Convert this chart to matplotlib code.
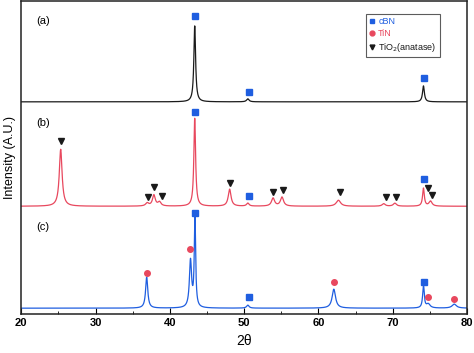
import numpy as np
import matplotlib
matplotlib.use("Agg")
import matplotlib.pyplot as plt
from matplotlib.lines import Line2D

plt.rcParams['font.family'] = ['Liberation Sans', 'DejaVu Sans']

# peak lists: (2theta, height, fwhm), baselines in arbitrary units
base_a = 212.5
peaks_a = [(43.35, 76, 0.28), (50.5, 3, 0.4), (74.15, 16, 0.3)]
base_b = 108
peaks_b = [(25.3, 57, 0.45), (36.95, 3, 0.5), (37.85, 11, 0.45), (38.6, 4, 0.5),
           (43.35, 88, 0.28), (48.05, 17, 0.45), (50.5, 3, 0.4), (53.9, 8, 0.5),
           (55.1, 9, 0.5), (62.7, 6, 0.7), (68.8, 2.5, 0.5), (70.3, 3, 0.5),
           (74.15, 18, 0.28), (75.1, 5, 0.5)]
base_c = 6
peaks_c = [(36.88, 31, 0.35), (42.78, 47, 0.35), (43.38, 90, 0.22), (50.5, 3, 0.4),
           (62.08, 19, 0.55), (74.15, 23, 0.25), (74.8, 4, 0.6), (78.3, 4, 0.7)]

# phase markers (2theta, y)
cbn_x = [43.4, 50.6, 74.2, 43.4, 50.7, 74.25, 43.4, 50.7, 74.25]
cbn_y = [298, 222, 236, 202, 118, 135, 101, 17, 32]
tin_x = [36.9, 42.65, 62.07, 74.8, 78.2]
tin_y = [41, 65, 32, 17, 15]
tio2_x = [25.3, 37.0, 37.9, 38.9, 48.1, 53.95, 55.3, 62.85, 69.05, 70.4, 74.7, 75.35]
tio2_y = [173, 117, 127, 118, 131, 122, 124, 122, 117, 117, 126, 119]

c_black = '#1a1a1a'
c_red = '#e8485e'
c_blue = '#1f5ee0'

def pattern(x, base, peaks):
    y = np.full_like(x, base)
    for pos, h, w in peaks:
        g = w / 2
        y += h * g**2 / ((x - pos)**2 + g**2)
    return y

x = np.linspace(20, 80, 3000)

fig = plt.figure(figsize=(4.74, 3.53), dpi=100)
ax = fig.add_axes([0.045, 0.11, 0.94, 0.886])

ax.plot(x, pattern(x, base_a, peaks_a), color=c_black, lw=0.9)
ax.plot(x, pattern(x, base_b, peaks_b), color=c_red, lw=0.9)
ax.plot(x, pattern(x, base_c, peaks_c), color=c_blue, lw=0.9)

ax.plot(cbn_x, cbn_y, 's', color=c_blue, ms=4, ls='none')
ax.plot(tin_x, tin_y, 'o', color=c_red, ms=4, ls='none')
ax.plot(tio2_x, tio2_y, 'v', color=c_black, ms=4, ls='none')

ax.text(22, 290, '(a)', fontsize=8)
ax.text(22, 188, '(b)', fontsize=8)
ax.text(22, 84, '(c)', fontsize=8)

handles = [Line2D([], [], marker='s', color=c_blue, ls='none', ms=3.5),
           Line2D([], [], marker='o', color=c_red, ls='none', ms=3.5),
           Line2D([], [], marker='v', color=c_black, ls='none', ms=3.5)]
leg = ax.legend(handles, ['cBN', 'TiN', 'TiO$_2$(anatase)'], loc='upper right',
                bbox_to_anchor=(0.95, 0.975), fontsize=6.5, frameon=True, fancybox=False,
                edgecolor='#333333', handlelength=0.6, handletextpad=0.4,
                borderpad=0.4, labelspacing=0.3)
leg.get_frame().set_linewidth(0.8)
for t, c in zip(leg.get_texts(), [c_blue, c_red, c_black]):
    t.set_color(c)

ax.set_xlim(20, 80)
ax.set_ylim(0, 313)
ax.set_xticks(range(20, 81, 10))
ax.set_xticks(range(25, 80, 10), minor=True)
ax.set_yticks([])
ax.tick_params(axis='x', which='both', direction='in', labelsize=8, pad=3)
ax.tick_params(axis='x', which='major', length=4)
ax.tick_params(axis='x', which='minor', length=2.5)
for lab in ax.get_xticklabels():
    lab.set_fontweight('bold')
for s in ax.spines.values():
    s.set_linewidth(1.1)
    s.set_color('#222222')

ax.set_xlabel('2θ', fontsize=10, labelpad=4)
ax.set_ylabel('Intensity (A.U.)', fontsize=9, labelpad=4)

fig.savefig('out.png', dpi=100)
